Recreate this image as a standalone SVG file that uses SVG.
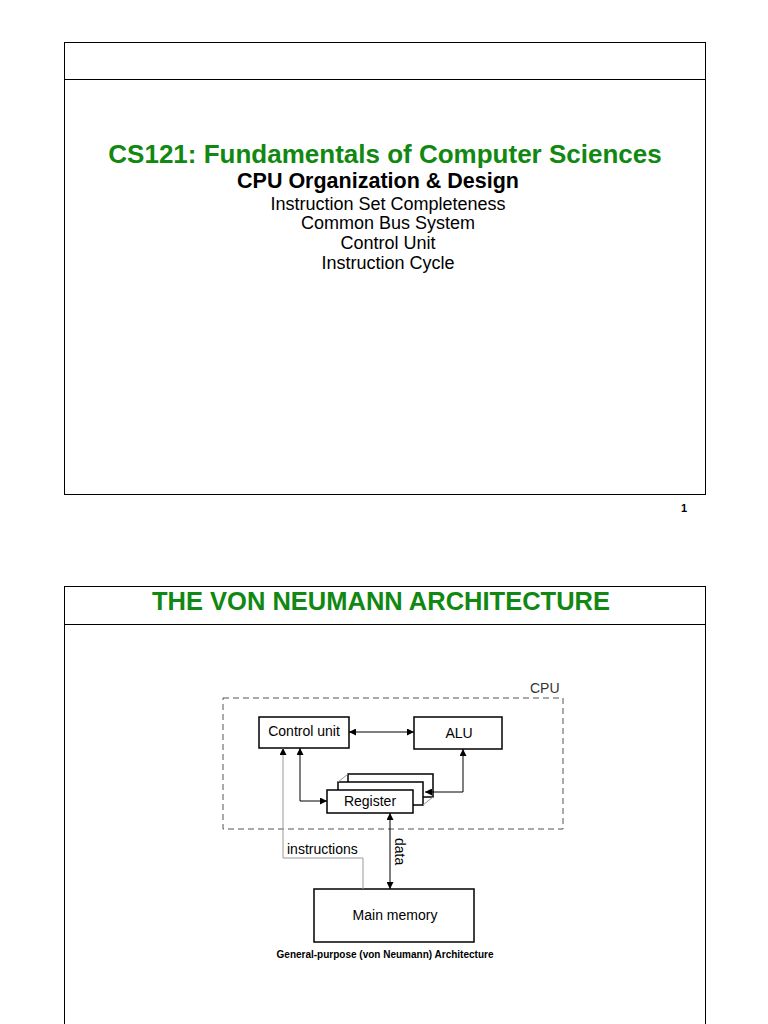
<svg xmlns="http://www.w3.org/2000/svg" width="768" height="1024" viewBox="0 0 768 1024">
<style>
.f{fill:none;stroke:#000;stroke-width:1}
.b{fill:#fff;stroke:#000;stroke-width:1.5}
.t{font-family:"Liberation Sans",Arial,sans-serif}
.g{fill:#118811;font-weight:bold}
.c{stroke:#000;stroke-width:1;fill:none}
.gr{stroke:#999;stroke-width:1;fill:none}
</style>
<defs>
<marker id="a" viewBox="0 0 10 10" refX="10" refY="5" markerWidth="9" markerHeight="7" orient="auto-start-reverse" markerUnits="userSpaceOnUse"><path d="M0,0 L10,5 L0,10 z" fill="#000"/></marker>
</defs>
<rect width="768" height="1024" fill="#fff"/>
<g id="slide1">
<rect class="f" x="64.5" y="42.5" width="641" height="452"/>
<line class="f" x1="64" y1="79.5" x2="705" y2="79.5"/>
<text class="t g" x="385" y="163" font-size="26" text-anchor="middle">CS121: Fundamentals of Computer Sciences</text>
<text class="t" x="378" y="188" font-size="21.5" font-weight="bold" text-anchor="middle">CPU Organization &amp; Design</text>
<g class="t" font-size="18" text-anchor="middle">
<text x="388" y="210">Instruction Set Completeness</text>
<text x="388" y="229">Common Bus System</text>
<text x="388" y="249">Control Unit</text>
<text x="388" y="269">Instruction Cycle</text>
</g>
<text class="t" x="681" y="512" font-size="11" font-weight="bold">1</text>
</g>
<g id="slide2">
<rect class="f" x="64.5" y="586.5" width="641" height="450"/>
<line class="f" x1="64" y1="624.5" x2="705" y2="624.5"/>
<text class="t g" x="381" y="610" font-size="25.5" text-anchor="middle">THE VON NEUMANN ARCHITECTURE</text>
</g>
<g id="cpu">
<rect x="223" y="698" width="340" height="131" fill="none" stroke="#555" stroke-dasharray="6,4"/>
<text class="t" x="530" y="693" font-size="14" fill="#333">CPU</text>
</g>
<g id="control"><rect class="b" x="259" y="717" width="90" height="31"/><text class="t" x="304" y="736" font-size="14" text-anchor="middle">Control unit</text></g>
<g id="alu"><rect class="b" x="414" y="717" width="88" height="32"/><text class="t" x="459" y="738" font-size="14" text-anchor="middle">ALU</text></g>
<g id="register">
<rect class="b" x="348" y="774" width="85" height="23"/>
<rect class="b" x="338" y="782" width="85" height="23"/>
<line x1="338" y1="782" x2="348" y2="774" stroke="#999"/>
<line x1="423" y1="805" x2="433" y2="797" stroke="#999"/>
<rect class="b" x="327" y="790" width="86" height="23"/>
<text class="t" x="370" y="806" font-size="14" text-anchor="middle">Register</text>
</g>
<g id="memory"><rect class="b" x="314" y="889" width="160" height="53"/><text class="t" x="395" y="920" font-size="14" text-anchor="middle">Main memory</text></g>
<g id="connectors">
<line class="c" x1="349" y1="732" x2="414" y2="732" marker-start="url(#a)" marker-end="url(#a)"/>
<polyline class="c" points="300,748 300,801 327,801" marker-start="url(#a)" marker-end="url(#a)"/>
<polyline class="c" points="463,749 463,792 425,792" marker-start="url(#a)" marker-end="url(#a)"/>
<line class="c" x1="390" y1="813" x2="390" y2="889" marker-start="url(#a)" marker-end="url(#a)"/>
<polyline class="gr" points="363,889 363,858 283,858 283,748" marker-end="url(#a)"/>
<text class="t" x="287" y="854" font-size="14">instructions</text>
<text class="t" x="395" y="838" font-size="14" transform="rotate(90 395 838)">data</text>
</g>
<text class="t" x="385" y="958" font-size="10" font-weight="bold" text-anchor="middle">General-purpose (von Neumann) Architecture</text>
</svg>
